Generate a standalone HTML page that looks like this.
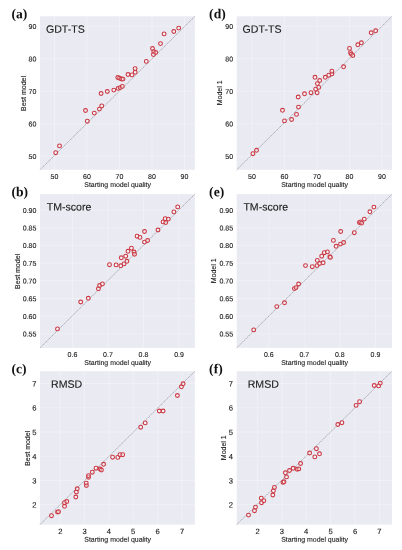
<!DOCTYPE html>
<html lang="en">
<head>
<meta charset="utf-8">
<title>Figure</title>
<style>
html,body{margin:0;padding:0;background:#fff;}
svg{display:block;}
.t{font-family:"Liberation Sans",sans-serif;fill:#1a1a1a;stroke:#1a1a1a;stroke-width:0.12;}
.tag{font-family:"Liberation Serif",serif;font-weight:bold;fill:#111;}
.g{stroke:#fff;stroke-width:0.5;stroke-opacity:0.55;}
.d{stroke:#767682;stroke-width:0.55;stroke-dasharray:1.5 0.6;}
.p{fill:#ffffff;fill-opacity:0.45;stroke:#cb3843;stroke-width:1.1;}
</style>
</head>
<body>
<svg width="402" height="550" viewBox="0 0 402 550">
<rect x="0" y="0" width="402" height="550" fill="#ffffff"/>
<g>
<rect x="40.0" y="16.3" width="154.9" height="153.5" fill="#EAEAF2"/>
<line class="g" x1="54.5" y1="16.3" x2="54.5" y2="169.8"/>
<line class="g" x1="87.0" y1="16.3" x2="87.0" y2="169.8"/>
<line class="g" x1="119.5" y1="16.3" x2="119.5" y2="169.8"/>
<line class="g" x1="152.0" y1="16.3" x2="152.0" y2="169.8"/>
<line class="g" x1="184.5" y1="16.3" x2="184.5" y2="169.8"/>
<line class="g" x1="40.0" y1="156.2" x2="194.9" y2="156.2"/>
<line class="g" x1="40.0" y1="123.7" x2="194.9" y2="123.7"/>
<line class="g" x1="40.0" y1="91.2" x2="194.9" y2="91.2"/>
<line class="g" x1="40.0" y1="58.7" x2="194.9" y2="58.7"/>
<line class="g" x1="40.0" y1="26.2" x2="194.9" y2="26.2"/>
<line class="d" x1="40.0" y1="169.8" x2="194.9" y2="16.3"/>
<circle class="p" cx="55.7" cy="152.7" r="1.9"/>
<circle class="p" cx="59.5" cy="145.9" r="1.9"/>
<circle class="p" cx="87.3" cy="121.2" r="1.9"/>
<circle class="p" cx="85.5" cy="110.5" r="1.9"/>
<circle class="p" cx="94.3" cy="113.1" r="1.9"/>
<circle class="p" cx="99.4" cy="109.1" r="1.9"/>
<circle class="p" cx="101.7" cy="105.9" r="1.9"/>
<circle class="p" cx="101.1" cy="93.5" r="1.9"/>
<circle class="p" cx="107.3" cy="91.5" r="1.9"/>
<circle class="p" cx="113.8" cy="90.1" r="1.9"/>
<circle class="p" cx="118.1" cy="88.4" r="1.9"/>
<circle class="p" cx="120.1" cy="87.6" r="1.9"/>
<circle class="p" cx="122.3" cy="86.4" r="1.9"/>
<circle class="p" cx="117.8" cy="77.5" r="1.9"/>
<circle class="p" cx="119.6" cy="78.2" r="1.9"/>
<circle class="p" cx="121.6" cy="79.0" r="1.9"/>
<circle class="p" cx="123.0" cy="79.1" r="1.9"/>
<circle class="p" cx="128.0" cy="74.5" r="1.9"/>
<circle class="p" cx="132.0" cy="74.9" r="1.9"/>
<circle class="p" cx="135.2" cy="72.3" r="1.9"/>
<circle class="p" cx="135.1" cy="68.6" r="1.9"/>
<circle class="p" cx="146.3" cy="61.4" r="1.9"/>
<circle class="p" cx="152.5" cy="48.5" r="1.9"/>
<circle class="p" cx="153.8" cy="51.7" r="1.9"/>
<circle class="p" cx="155.7" cy="52.5" r="1.9"/>
<circle class="p" cx="153.4" cy="54.6" r="1.9"/>
<circle class="p" cx="160.5" cy="43.6" r="1.9"/>
<circle class="p" cx="164.1" cy="33.9" r="1.9"/>
<circle class="p" cx="173.8" cy="31.5" r="1.9"/>
<circle class="p" cx="178.7" cy="28.1" r="1.9"/>
<text class="t" font-size="7.0" text-anchor="end" transform="translate(36.40,158.91) rotate(0.03)">50</text>
<text class="t" font-size="7.0" text-anchor="end" transform="translate(36.40,126.41) rotate(0.03)">60</text>
<text class="t" font-size="7.0" text-anchor="end" transform="translate(36.40,93.91) rotate(0.03)">70</text>
<text class="t" font-size="7.0" text-anchor="end" transform="translate(36.40,61.41) rotate(0.03)">80</text>
<text class="t" font-size="7.0" text-anchor="end" transform="translate(36.40,28.91) rotate(0.03)">90</text>
<text class="t" font-size="7.0" text-anchor="middle" transform="translate(54.50,179.01) rotate(0.03)">50</text>
<text class="t" font-size="7.0" text-anchor="middle" transform="translate(87.00,179.01) rotate(0.03)">60</text>
<text class="t" font-size="7.0" text-anchor="middle" transform="translate(119.50,179.01) rotate(0.03)">70</text>
<text class="t" font-size="7.0" text-anchor="middle" transform="translate(152.00,179.01) rotate(0.03)">80</text>
<text class="t" font-size="7.0" text-anchor="middle" transform="translate(184.50,179.01) rotate(0.03)">90</text>
<text class="t" font-size="6.95" text-anchor="middle" transform="translate(117.65,186.95) rotate(0.03)">Starting model quality</text>
<text class="t" font-size="7.0" text-anchor="middle" transform="translate(25.70,93.45) rotate(-90)">Best model</text>
<text class="t" font-size="10.6" transform="translate(45.90,32.80) rotate(0.03)">GDT-TS</text>
<text class="tag" font-size="13.6" transform="translate(11.40,18.35) rotate(0.03)">(a)</text>
</g>
<g>
<rect x="236.7" y="16.3" width="155.3" height="153.5" fill="#EAEAF2"/>
<line class="g" x1="251.9" y1="16.3" x2="251.9" y2="169.8"/>
<line class="g" x1="284.4" y1="16.3" x2="284.4" y2="169.8"/>
<line class="g" x1="316.9" y1="16.3" x2="316.9" y2="169.8"/>
<line class="g" x1="349.4" y1="16.3" x2="349.4" y2="169.8"/>
<line class="g" x1="381.9" y1="16.3" x2="381.9" y2="169.8"/>
<line class="g" x1="236.7" y1="156.2" x2="392.0" y2="156.2"/>
<line class="g" x1="236.7" y1="123.7" x2="392.0" y2="123.7"/>
<line class="g" x1="236.7" y1="91.2" x2="392.0" y2="91.2"/>
<line class="g" x1="236.7" y1="58.7" x2="392.0" y2="58.7"/>
<line class="g" x1="236.7" y1="26.2" x2="392.0" y2="26.2"/>
<line class="d" x1="236.7" y1="169.8" x2="392.0" y2="16.3"/>
<circle class="p" cx="252.9" cy="153.7" r="1.9"/>
<circle class="p" cx="256.5" cy="150.3" r="1.9"/>
<circle class="p" cx="284.5" cy="120.9" r="1.9"/>
<circle class="p" cx="282.5" cy="110.3" r="1.9"/>
<circle class="p" cx="291.6" cy="119.5" r="1.9"/>
<circle class="p" cx="296.5" cy="114.4" r="1.9"/>
<circle class="p" cx="298.5" cy="107.1" r="1.9"/>
<circle class="p" cx="298.2" cy="97.0" r="1.9"/>
<circle class="p" cx="304.5" cy="93.8" r="1.9"/>
<circle class="p" cx="311.0" cy="92.7" r="1.9"/>
<circle class="p" cx="317.1" cy="92.7" r="1.9"/>
<circle class="p" cx="315.7" cy="89.2" r="1.9"/>
<circle class="p" cx="318.7" cy="87.4" r="1.9"/>
<circle class="p" cx="317.4" cy="83.6" r="1.9"/>
<circle class="p" cx="319.7" cy="80.5" r="1.9"/>
<circle class="p" cx="315.0" cy="77.3" r="1.9"/>
<circle class="p" cx="325.3" cy="77.3" r="1.9"/>
<circle class="p" cx="328.8" cy="75.2" r="1.9"/>
<circle class="p" cx="331.9" cy="73.9" r="1.9"/>
<circle class="p" cx="331.9" cy="71.2" r="1.9"/>
<circle class="p" cx="343.6" cy="66.8" r="1.9"/>
<circle class="p" cx="349.5" cy="48.4" r="1.9"/>
<circle class="p" cx="350.5" cy="52.7" r="1.9"/>
<circle class="p" cx="351.3" cy="54.1" r="1.9"/>
<circle class="p" cx="352.8" cy="55.5" r="1.9"/>
<circle class="p" cx="357.8" cy="44.8" r="1.9"/>
<circle class="p" cx="361.4" cy="42.8" r="1.9"/>
<circle class="p" cx="371.2" cy="32.8" r="1.9"/>
<circle class="p" cx="375.7" cy="30.8" r="1.9"/>
<text class="t" font-size="7.0" text-anchor="end" transform="translate(233.10,158.91) rotate(0.03)">50</text>
<text class="t" font-size="7.0" text-anchor="end" transform="translate(233.10,126.41) rotate(0.03)">60</text>
<text class="t" font-size="7.0" text-anchor="end" transform="translate(233.10,93.91) rotate(0.03)">70</text>
<text class="t" font-size="7.0" text-anchor="end" transform="translate(233.10,61.41) rotate(0.03)">80</text>
<text class="t" font-size="7.0" text-anchor="end" transform="translate(233.10,28.91) rotate(0.03)">90</text>
<text class="t" font-size="7.0" text-anchor="middle" transform="translate(251.90,179.01) rotate(0.03)">50</text>
<text class="t" font-size="7.0" text-anchor="middle" transform="translate(284.40,179.01) rotate(0.03)">60</text>
<text class="t" font-size="7.0" text-anchor="middle" transform="translate(316.90,179.01) rotate(0.03)">70</text>
<text class="t" font-size="7.0" text-anchor="middle" transform="translate(349.40,179.01) rotate(0.03)">80</text>
<text class="t" font-size="7.0" text-anchor="middle" transform="translate(381.90,179.01) rotate(0.03)">90</text>
<text class="t" font-size="6.95" text-anchor="middle" transform="translate(314.55,186.95) rotate(0.03)">Starting model quality</text>
<text class="t" font-size="7.0" text-anchor="middle" transform="translate(222.10,92.85) rotate(-90)">Model 1</text>
<text class="t" font-size="10.6" transform="translate(242.60,32.80) rotate(0.03)">GDT-TS</text>
<text class="tag" font-size="13.6" transform="translate(209.10,18.35) rotate(0.03)">(d)</text>
</g>
<g>
<rect x="40.0" y="194.1" width="154.9" height="153.8" fill="#EAEAF2"/>
<line class="g" x1="72.4" y1="194.1" x2="72.4" y2="347.9"/>
<line class="g" x1="107.9" y1="194.1" x2="107.9" y2="347.9"/>
<line class="g" x1="143.4" y1="194.1" x2="143.4" y2="347.9"/>
<line class="g" x1="179.0" y1="194.1" x2="179.0" y2="347.9"/>
<line class="g" x1="40.0" y1="210.2" x2="194.9" y2="210.2"/>
<line class="g" x1="40.0" y1="227.8" x2="194.9" y2="227.8"/>
<line class="g" x1="40.0" y1="245.4" x2="194.9" y2="245.4"/>
<line class="g" x1="40.0" y1="263.0" x2="194.9" y2="263.0"/>
<line class="g" x1="40.0" y1="280.7" x2="194.9" y2="280.7"/>
<line class="g" x1="40.0" y1="298.5" x2="194.9" y2="298.5"/>
<line class="g" x1="40.0" y1="316.2" x2="194.9" y2="316.2"/>
<line class="g" x1="40.0" y1="333.9" x2="194.9" y2="333.9"/>
<line class="d" x1="40.0" y1="347.9" x2="194.9" y2="194.1"/>
<circle class="p" cx="57.5" cy="328.9" r="1.9"/>
<circle class="p" cx="80.7" cy="302.0" r="1.9"/>
<circle class="p" cx="88.3" cy="298.3" r="1.9"/>
<circle class="p" cx="98.4" cy="288.8" r="1.9"/>
<circle class="p" cx="99.6" cy="285.5" r="1.9"/>
<circle class="p" cx="102.4" cy="283.9" r="1.9"/>
<circle class="p" cx="109.5" cy="264.7" r="1.9"/>
<circle class="p" cx="116.1" cy="264.9" r="1.9"/>
<circle class="p" cx="120.8" cy="265.8" r="1.9"/>
<circle class="p" cx="124.0" cy="263.9" r="1.9"/>
<circle class="p" cx="126.9" cy="261.3" r="1.9"/>
<circle class="p" cx="121.3" cy="257.8" r="1.9"/>
<circle class="p" cx="125.7" cy="256.2" r="1.9"/>
<circle class="p" cx="128.0" cy="251.3" r="1.9"/>
<circle class="p" cx="131.4" cy="248.2" r="1.9"/>
<circle class="p" cx="134.0" cy="252.0" r="1.9"/>
<circle class="p" cx="134.5" cy="254.2" r="1.9"/>
<circle class="p" cx="137.1" cy="236.2" r="1.9"/>
<circle class="p" cx="140.0" cy="237.4" r="1.9"/>
<circle class="p" cx="144.5" cy="242.1" r="1.9"/>
<circle class="p" cx="147.6" cy="240.5" r="1.9"/>
<circle class="p" cx="144.5" cy="231.5" r="1.9"/>
<circle class="p" cx="158.0" cy="230.0" r="1.9"/>
<circle class="p" cx="163.1" cy="221.9" r="1.9"/>
<circle class="p" cx="165.7" cy="222.6" r="1.9"/>
<circle class="p" cx="165.2" cy="218.7" r="1.9"/>
<circle class="p" cx="168.3" cy="219.1" r="1.9"/>
<circle class="p" cx="173.9" cy="211.9" r="1.9"/>
<circle class="p" cx="177.7" cy="206.9" r="1.9"/>
<text class="t" font-size="7.0" text-anchor="end" transform="translate(36.40,212.91) rotate(0.03)">0.90</text>
<text class="t" font-size="7.0" text-anchor="end" transform="translate(36.40,230.51) rotate(0.03)">0.85</text>
<text class="t" font-size="7.0" text-anchor="end" transform="translate(36.40,248.11) rotate(0.03)">0.80</text>
<text class="t" font-size="7.0" text-anchor="end" transform="translate(36.40,265.71) rotate(0.03)">0.75</text>
<text class="t" font-size="7.0" text-anchor="end" transform="translate(36.40,283.41) rotate(0.03)">0.70</text>
<text class="t" font-size="7.0" text-anchor="end" transform="translate(36.40,301.21) rotate(0.03)">0.65</text>
<text class="t" font-size="7.0" text-anchor="end" transform="translate(36.40,318.91) rotate(0.03)">0.60</text>
<text class="t" font-size="7.0" text-anchor="end" transform="translate(36.40,336.61) rotate(0.03)">0.55</text>
<text class="t" font-size="7.0" text-anchor="middle" transform="translate(72.40,357.11) rotate(0.03)">0.6</text>
<text class="t" font-size="7.0" text-anchor="middle" transform="translate(107.90,357.11) rotate(0.03)">0.7</text>
<text class="t" font-size="7.0" text-anchor="middle" transform="translate(143.40,357.11) rotate(0.03)">0.8</text>
<text class="t" font-size="7.0" text-anchor="middle" transform="translate(179.00,357.11) rotate(0.03)">0.9</text>
<text class="t" font-size="6.95" text-anchor="middle" transform="translate(117.65,365.05) rotate(0.03)">Starting model quality</text>
<text class="t" font-size="7.0" text-anchor="middle" transform="translate(20.00,271.40) rotate(-90)">Best model</text>
<text class="t" font-size="10.6" transform="translate(46.70,210.60) rotate(0.03)">TM-score</text>
<text class="tag" font-size="13.6" transform="translate(11.40,196.15) rotate(0.03)">(b)</text>
</g>
<g>
<rect x="236.7" y="194.1" width="155.3" height="153.8" fill="#EAEAF2"/>
<line class="g" x1="268.8" y1="194.1" x2="268.8" y2="347.9"/>
<line class="g" x1="304.3" y1="194.1" x2="304.3" y2="347.9"/>
<line class="g" x1="339.8" y1="194.1" x2="339.8" y2="347.9"/>
<line class="g" x1="375.4" y1="194.1" x2="375.4" y2="347.9"/>
<line class="g" x1="236.7" y1="210.2" x2="392.0" y2="210.2"/>
<line class="g" x1="236.7" y1="227.8" x2="392.0" y2="227.8"/>
<line class="g" x1="236.7" y1="245.4" x2="392.0" y2="245.4"/>
<line class="g" x1="236.7" y1="263.0" x2="392.0" y2="263.0"/>
<line class="g" x1="236.7" y1="280.7" x2="392.0" y2="280.7"/>
<line class="g" x1="236.7" y1="298.5" x2="392.0" y2="298.5"/>
<line class="g" x1="236.7" y1="316.2" x2="392.0" y2="316.2"/>
<line class="g" x1="236.7" y1="333.9" x2="392.0" y2="333.9"/>
<line class="d" x1="236.7" y1="347.9" x2="392.0" y2="194.1"/>
<circle class="p" cx="253.7" cy="329.9" r="1.9"/>
<circle class="p" cx="276.8" cy="306.6" r="1.9"/>
<circle class="p" cx="284.5" cy="302.8" r="1.9"/>
<circle class="p" cx="294.4" cy="288.6" r="1.9"/>
<circle class="p" cx="296.0" cy="287.6" r="1.9"/>
<circle class="p" cx="298.6" cy="284.0" r="1.9"/>
<circle class="p" cx="305.5" cy="265.6" r="1.9"/>
<circle class="p" cx="312.3" cy="266.7" r="1.9"/>
<circle class="p" cx="317.0" cy="265.6" r="1.9"/>
<circle class="p" cx="319.6" cy="263.5" r="1.9"/>
<circle class="p" cx="323.1" cy="262.8" r="1.9"/>
<circle class="p" cx="317.3" cy="260.4" r="1.9"/>
<circle class="p" cx="321.7" cy="256.2" r="1.9"/>
<circle class="p" cx="324.3" cy="252.7" r="1.9"/>
<circle class="p" cx="327.4" cy="251.9" r="1.9"/>
<circle class="p" cx="329.8" cy="256.8" r="1.9"/>
<circle class="p" cx="330.4" cy="257.4" r="1.9"/>
<circle class="p" cx="333.4" cy="240.4" r="1.9"/>
<circle class="p" cx="336.1" cy="246.3" r="1.9"/>
<circle class="p" cx="340.5" cy="244.1" r="1.9"/>
<circle class="p" cx="343.6" cy="242.5" r="1.9"/>
<circle class="p" cx="340.7" cy="231.5" r="1.9"/>
<circle class="p" cx="354.3" cy="232.7" r="1.9"/>
<circle class="p" cx="359.4" cy="222.6" r="1.9"/>
<circle class="p" cx="360.5" cy="221.9" r="1.9"/>
<circle class="p" cx="361.7" cy="223.1" r="1.9"/>
<circle class="p" cx="364.3" cy="219.1" r="1.9"/>
<circle class="p" cx="369.9" cy="211.8" r="1.9"/>
<circle class="p" cx="373.9" cy="207.1" r="1.9"/>
<text class="t" font-size="7.0" text-anchor="end" transform="translate(233.10,212.91) rotate(0.03)">0.90</text>
<text class="t" font-size="7.0" text-anchor="end" transform="translate(233.10,230.51) rotate(0.03)">0.85</text>
<text class="t" font-size="7.0" text-anchor="end" transform="translate(233.10,248.11) rotate(0.03)">0.80</text>
<text class="t" font-size="7.0" text-anchor="end" transform="translate(233.10,265.71) rotate(0.03)">0.75</text>
<text class="t" font-size="7.0" text-anchor="end" transform="translate(233.10,283.41) rotate(0.03)">0.70</text>
<text class="t" font-size="7.0" text-anchor="end" transform="translate(233.10,301.21) rotate(0.03)">0.65</text>
<text class="t" font-size="7.0" text-anchor="end" transform="translate(233.10,318.91) rotate(0.03)">0.60</text>
<text class="t" font-size="7.0" text-anchor="end" transform="translate(233.10,336.61) rotate(0.03)">0.55</text>
<text class="t" font-size="7.0" text-anchor="middle" transform="translate(268.80,357.11) rotate(0.03)">0.6</text>
<text class="t" font-size="7.0" text-anchor="middle" transform="translate(304.30,357.11) rotate(0.03)">0.7</text>
<text class="t" font-size="7.0" text-anchor="middle" transform="translate(339.80,357.11) rotate(0.03)">0.8</text>
<text class="t" font-size="7.0" text-anchor="middle" transform="translate(375.40,357.11) rotate(0.03)">0.9</text>
<text class="t" font-size="6.95" text-anchor="middle" transform="translate(314.55,365.05) rotate(0.03)">Starting model quality</text>
<text class="t" font-size="7.0" text-anchor="middle" transform="translate(216.40,270.80) rotate(-90)">Model 1</text>
<text class="t" font-size="10.6" transform="translate(243.40,210.60) rotate(0.03)">TM-score</text>
<text class="tag" font-size="13.6" transform="translate(209.10,196.15) rotate(0.03)">(e)</text>
</g>
<g>
<rect x="40.0" y="371.2" width="154.9" height="153.4" fill="#EAEAF2"/>
<line class="g" x1="60.3" y1="371.2" x2="60.3" y2="524.6"/>
<line class="g" x1="84.6" y1="371.2" x2="84.6" y2="524.6"/>
<line class="g" x1="108.9" y1="371.2" x2="108.9" y2="524.6"/>
<line class="g" x1="133.2" y1="371.2" x2="133.2" y2="524.6"/>
<line class="g" x1="157.7" y1="371.2" x2="157.7" y2="524.6"/>
<line class="g" x1="182.1" y1="371.2" x2="182.1" y2="524.6"/>
<line class="g" x1="40.0" y1="383.5" x2="194.9" y2="383.5"/>
<line class="g" x1="40.0" y1="407.7" x2="194.9" y2="407.7"/>
<line class="g" x1="40.0" y1="432.0" x2="194.9" y2="432.0"/>
<line class="g" x1="40.0" y1="456.3" x2="194.9" y2="456.3"/>
<line class="g" x1="40.0" y1="480.5" x2="194.9" y2="480.5"/>
<line class="g" x1="40.0" y1="504.6" x2="194.9" y2="504.6"/>
<line class="d" x1="40.0" y1="524.6" x2="194.9" y2="371.2"/>
<circle class="p" cx="51.5" cy="515.7" r="1.9"/>
<circle class="p" cx="57.5" cy="512.1" r="1.9"/>
<circle class="p" cx="58.5" cy="511.7" r="1.9"/>
<circle class="p" cx="64.5" cy="506.3" r="1.9"/>
<circle class="p" cx="64.5" cy="502.7" r="1.9"/>
<circle class="p" cx="66.8" cy="501.5" r="1.9"/>
<circle class="p" cx="75.8" cy="497.0" r="1.9"/>
<circle class="p" cx="76.4" cy="492.0" r="1.9"/>
<circle class="p" cx="77.2" cy="488.8" r="1.9"/>
<circle class="p" cx="86.4" cy="485.5" r="1.9"/>
<circle class="p" cx="86.2" cy="483.1" r="1.9"/>
<circle class="p" cx="88.5" cy="477.2" r="1.9"/>
<circle class="p" cx="88.5" cy="475.6" r="1.9"/>
<circle class="p" cx="92.3" cy="472.2" r="1.9"/>
<circle class="p" cx="96.0" cy="468.2" r="1.9"/>
<circle class="p" cx="100.0" cy="469.0" r="1.9"/>
<circle class="p" cx="101.4" cy="470.0" r="1.9"/>
<circle class="p" cx="103.6" cy="464.3" r="1.9"/>
<circle class="p" cx="112.6" cy="457.2" r="1.9"/>
<circle class="p" cx="117.8" cy="457.4" r="1.9"/>
<circle class="p" cx="120.0" cy="454.7" r="1.9"/>
<circle class="p" cx="122.7" cy="454.7" r="1.9"/>
<circle class="p" cx="140.7" cy="427.2" r="1.9"/>
<circle class="p" cx="145.2" cy="422.9" r="1.9"/>
<circle class="p" cx="159.3" cy="411.0" r="1.9"/>
<circle class="p" cx="163.1" cy="411.0" r="1.9"/>
<circle class="p" cx="177.4" cy="395.5" r="1.9"/>
<circle class="p" cx="181.4" cy="386.8" r="1.9"/>
<circle class="p" cx="183.1" cy="383.8" r="1.9"/>
<text class="t" font-size="7.6" text-anchor="end" transform="translate(36.40,386.42) rotate(0.03)">7</text>
<text class="t" font-size="7.6" text-anchor="end" transform="translate(36.40,410.62) rotate(0.03)">6</text>
<text class="t" font-size="7.6" text-anchor="end" transform="translate(36.40,434.92) rotate(0.03)">5</text>
<text class="t" font-size="7.6" text-anchor="end" transform="translate(36.40,459.22) rotate(0.03)">4</text>
<text class="t" font-size="7.6" text-anchor="end" transform="translate(36.40,483.42) rotate(0.03)">3</text>
<text class="t" font-size="7.6" text-anchor="end" transform="translate(36.40,507.52) rotate(0.03)">2</text>
<text class="t" font-size="7.6" text-anchor="middle" transform="translate(60.30,534.02) rotate(0.03)">2</text>
<text class="t" font-size="7.6" text-anchor="middle" transform="translate(84.60,534.02) rotate(0.03)">3</text>
<text class="t" font-size="7.6" text-anchor="middle" transform="translate(108.90,534.02) rotate(0.03)">4</text>
<text class="t" font-size="7.6" text-anchor="middle" transform="translate(133.20,534.02) rotate(0.03)">5</text>
<text class="t" font-size="7.6" text-anchor="middle" transform="translate(157.70,534.02) rotate(0.03)">6</text>
<text class="t" font-size="7.6" text-anchor="middle" transform="translate(182.10,534.02) rotate(0.03)">7</text>
<text class="t" font-size="6.95" text-anchor="middle" transform="translate(117.65,541.75) rotate(0.03)">Starting model quality</text>
<text class="t" font-size="7.0" text-anchor="middle" transform="translate(29.70,448.30) rotate(-90)">Best model</text>
<text class="t" font-size="10.6" transform="translate(51.00,387.70) rotate(0.03)">RMSD</text>
<text class="tag" font-size="13.6" transform="translate(11.40,373.25) rotate(0.03)">(c)</text>
</g>
<g>
<rect x="236.7" y="371.2" width="155.3" height="153.4" fill="#EAEAF2"/>
<line class="g" x1="257.6" y1="371.2" x2="257.6" y2="524.6"/>
<line class="g" x1="281.9" y1="371.2" x2="281.9" y2="524.6"/>
<line class="g" x1="306.2" y1="371.2" x2="306.2" y2="524.6"/>
<line class="g" x1="330.5" y1="371.2" x2="330.5" y2="524.6"/>
<line class="g" x1="355.0" y1="371.2" x2="355.0" y2="524.6"/>
<line class="g" x1="379.4" y1="371.2" x2="379.4" y2="524.6"/>
<line class="g" x1="236.7" y1="383.5" x2="392.0" y2="383.5"/>
<line class="g" x1="236.7" y1="407.7" x2="392.0" y2="407.7"/>
<line class="g" x1="236.7" y1="432.0" x2="392.0" y2="432.0"/>
<line class="g" x1="236.7" y1="456.3" x2="392.0" y2="456.3"/>
<line class="g" x1="236.7" y1="480.5" x2="392.0" y2="480.5"/>
<line class="g" x1="236.7" y1="504.6" x2="392.0" y2="504.6"/>
<line class="d" x1="236.7" y1="524.6" x2="392.0" y2="371.2"/>
<circle class="p" cx="248.5" cy="515.1" r="1.9"/>
<circle class="p" cx="254.5" cy="510.7" r="1.9"/>
<circle class="p" cx="255.5" cy="507.1" r="1.9"/>
<circle class="p" cx="261.5" cy="502.7" r="1.9"/>
<circle class="p" cx="263.8" cy="500.7" r="1.9"/>
<circle class="p" cx="261.3" cy="498.2" r="1.9"/>
<circle class="p" cx="272.8" cy="495.0" r="1.9"/>
<circle class="p" cx="273.4" cy="490.8" r="1.9"/>
<circle class="p" cx="274.4" cy="487.4" r="1.9"/>
<circle class="p" cx="283.0" cy="482.4" r="1.9"/>
<circle class="p" cx="284.0" cy="481.8" r="1.9"/>
<circle class="p" cx="286.5" cy="476.9" r="1.9"/>
<circle class="p" cx="285.4" cy="472.8" r="1.9"/>
<circle class="p" cx="289.5" cy="470.5" r="1.9"/>
<circle class="p" cx="293.1" cy="468.3" r="1.9"/>
<circle class="p" cx="297.1" cy="469.3" r="1.9"/>
<circle class="p" cx="298.8" cy="468.9" r="1.9"/>
<circle class="p" cx="300.6" cy="463.5" r="1.9"/>
<circle class="p" cx="309.6" cy="453.0" r="1.9"/>
<circle class="p" cx="314.8" cy="456.9" r="1.9"/>
<circle class="p" cx="316.4" cy="448.7" r="1.9"/>
<circle class="p" cx="319.5" cy="453.8" r="1.9"/>
<circle class="p" cx="337.8" cy="424.5" r="1.9"/>
<circle class="p" cx="341.9" cy="422.7" r="1.9"/>
<circle class="p" cx="356.1" cy="405.4" r="1.9"/>
<circle class="p" cx="359.6" cy="401.7" r="1.9"/>
<circle class="p" cx="374.2" cy="385.5" r="1.9"/>
<circle class="p" cx="378.6" cy="385.9" r="1.9"/>
<circle class="p" cx="380.3" cy="383.1" r="1.9"/>
<text class="t" font-size="7.6" text-anchor="end" transform="translate(233.10,386.42) rotate(0.03)">7</text>
<text class="t" font-size="7.6" text-anchor="end" transform="translate(233.10,410.62) rotate(0.03)">6</text>
<text class="t" font-size="7.6" text-anchor="end" transform="translate(233.10,434.92) rotate(0.03)">5</text>
<text class="t" font-size="7.6" text-anchor="end" transform="translate(233.10,459.22) rotate(0.03)">4</text>
<text class="t" font-size="7.6" text-anchor="end" transform="translate(233.10,483.42) rotate(0.03)">3</text>
<text class="t" font-size="7.6" text-anchor="end" transform="translate(233.10,507.52) rotate(0.03)">2</text>
<text class="t" font-size="7.6" text-anchor="middle" transform="translate(257.60,534.02) rotate(0.03)">2</text>
<text class="t" font-size="7.6" text-anchor="middle" transform="translate(281.90,534.02) rotate(0.03)">3</text>
<text class="t" font-size="7.6" text-anchor="middle" transform="translate(306.20,534.02) rotate(0.03)">4</text>
<text class="t" font-size="7.6" text-anchor="middle" transform="translate(330.50,534.02) rotate(0.03)">5</text>
<text class="t" font-size="7.6" text-anchor="middle" transform="translate(355.00,534.02) rotate(0.03)">6</text>
<text class="t" font-size="7.6" text-anchor="middle" transform="translate(379.40,534.02) rotate(0.03)">7</text>
<text class="t" font-size="6.95" text-anchor="middle" transform="translate(314.55,541.75) rotate(0.03)">Starting model quality</text>
<text class="t" font-size="7.0" text-anchor="middle" transform="translate(226.10,447.70) rotate(-90)">Model 1</text>
<text class="t" font-size="10.6" transform="translate(247.70,387.70) rotate(0.03)">RMSD</text>
<text class="tag" font-size="13.6" transform="translate(209.10,373.25) rotate(0.03)">(f)</text>
</g>
</svg>
</body>
</html>
